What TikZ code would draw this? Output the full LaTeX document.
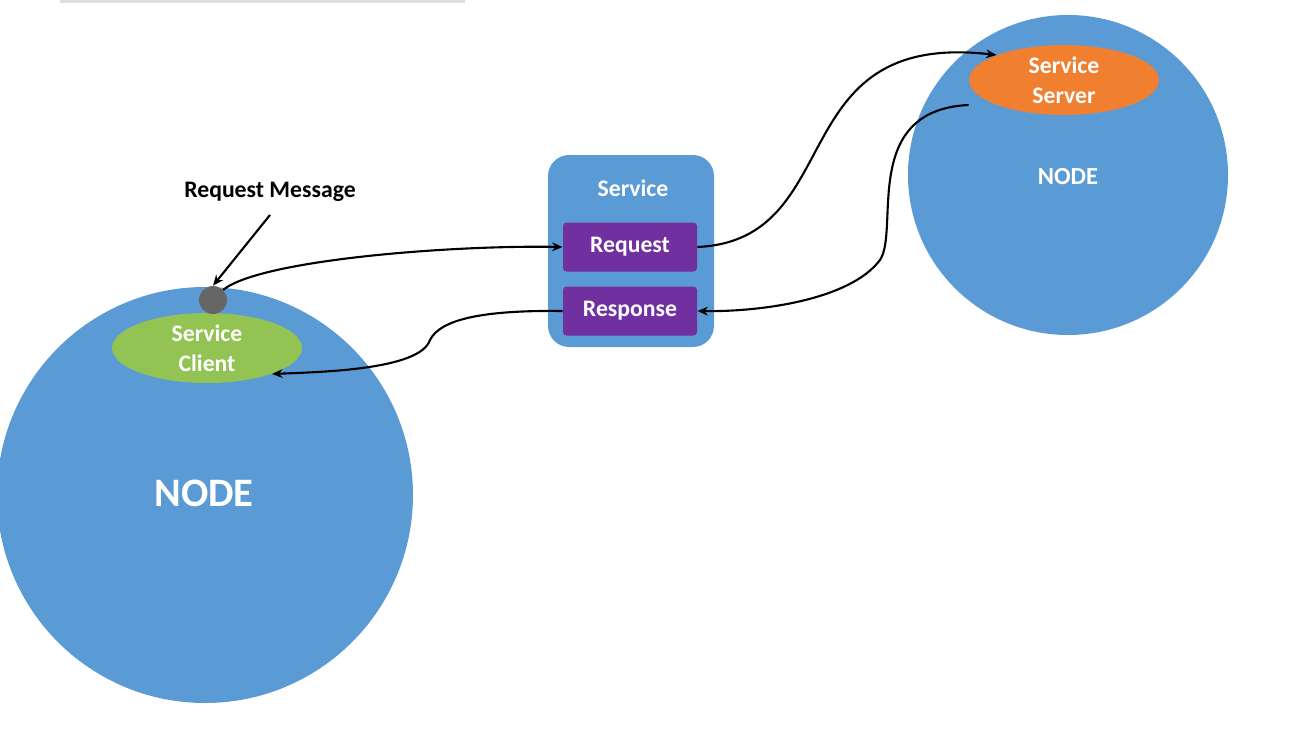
\documentclass[tikz,border=0pt]{standalone}
\usepackage{fontspec}
\setmainfont{Carlito}
\usetikzlibrary{arrows.meta,shapes.geometric}
\definecolor{nblue}{HTML}{5B9BD5}
\definecolor{npurple}{HTML}{7030A0}
\definecolor{ngreen}{HTML}{92C353}
\definecolor{norange}{HTML}{F08030}
\begin{document}
\begin{tikzpicture}[x=0.02cm,y=-0.02cm,
  lbl/.style={text=white,font=\bfseries\fontsize{13.5}{17}\selectfont,align=center},
  box/.style={fill=npurple,rounded corners=2pt,minimum width=134*0.02cm,minimum height=49*0.02cm,lbl},
  conn/.style={black,line width=1.2pt,-{Stealth[length=6pt,width=5pt]}}]
\useasboundingbox (0,0) rectangle (1299,730);
\fill[gray!25] (60,0) rectangle (465,3);
\node[circle,fill=nblue,minimum size=416*0.02cm,inner sep=0] (ln) at (205,495) {};
\node[text=white,font=\bfseries\fontsize{23}{26}\selectfont] (lnt) at (204,493) {NODE};
\node[circle,fill=nblue,minimum size=320*0.02cm,inner sep=0] (rn) at (1068,175) {};
\node[text=white,font=\bfseries\fontsize{14}{16}\selectfont] (rnt) at (1068,177) {NODE};
\node[fill=nblue,rounded corners=12pt,minimum width=166*0.02cm,minimum height=192*0.02cm] (svc) at (631,251) {};
\node[lbl] (svct) at (633,188) {Service};
\node[box] (req) at (630,247) {Request};
\node[box] (resp) at (630,311) {Response};
\node[ellipse,fill=ngreen,minimum width=190*0.02cm,minimum height=70*0.02cm,inner sep=0,lbl] (cl) at (207,348) {Service\\Client};
\node[ellipse,fill=norange,minimum width=190*0.02cm,minimum height=70*0.02cm,inner sep=0,lbl] (sv) at (1064,80) {Service\\Server};
\node[circle,fill=gray!80!black,minimum size=28*0.02cm,inner sep=0] (dot) at (213,300) {};
\node[font=\bfseries\fontsize{13.5}{16}\selectfont] (rm) at (270,192) {Request Message};
\coordinate (rmb) at (270,215);
\coordinate (clend) at (272,374);
\draw[black,line width=1.2pt,-{Stealth[length=6pt,width=5pt]}] (rmb) -- (dot.north);
\draw[conn] (dot.north east) .. controls (260,260) and (450,245) .. (req.west);
\draw[conn] (req.east) .. controls (850,240) and (780,30) .. (sv.north west);
\draw[conn] (sv.west |- 0,105) .. controls (860,110) and (900,230) .. (880,260) .. controls (850,300) and (760,312) .. (resp.east);
\draw[conn] (resp.west) .. controls (480,310) and (440,320) .. (430,340) .. controls (420,370) and (320,372) .. (clend);
\end{tikzpicture}
\end{document}
